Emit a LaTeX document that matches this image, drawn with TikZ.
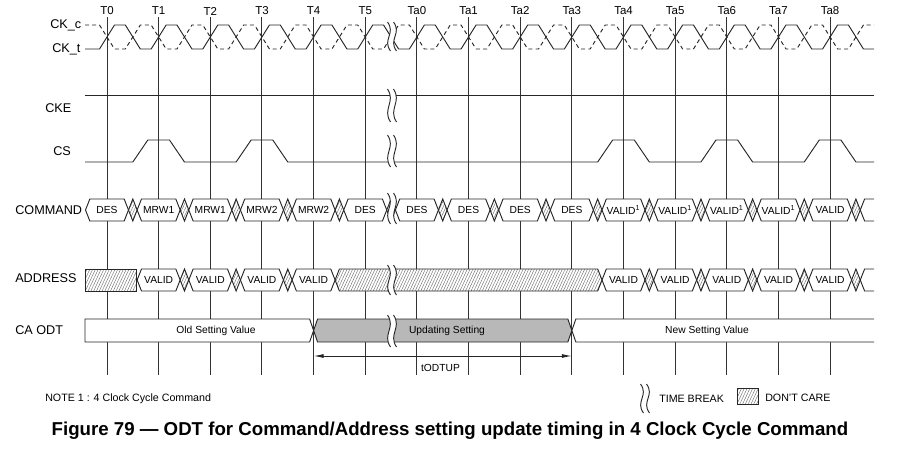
\documentclass[tikz,border=0pt]{standalone}
\usepackage{fontspec}
\setmainfont{Liberation Sans}
\usetikzlibrary{patterns.meta,arrows.meta}

\tikzset{
  sig/.style={line width=0.7pt, black!85},
  grid line/.style={line width=0.7pt, black!80},
  bus cell/.style={draw=black!85, line width=0.7pt, fill=white},
  dont care/.style={draw=black!85, line width=0.7pt, preaction={fill=white},
    pattern={Lines[angle=65,distance=1.9pt,line width=0.3pt]}, pattern color=black!60},
  row label/.style={anchor=west, inner sep=0pt, font=\fontsize{9.5}{11}\selectfont},
  edge label/.style={inner sep=0pt, font=\fontsize{8.6}{10}\selectfont},
  cell text/.style={inner sep=0pt, font=\fontsize{7.7}{9}\selectfont},
}

% one hexagon bus cell: centre x, row y, text, node name
\newcommand\buscell[4]{%
  \pgfmathsetmacro\cellL{#1-21.5}%
  \pgfmathsetmacro\cellR{#1+21.5}%
  \draw[bus cell] (\cellL,#2) -- ++(4.325,-11) -- ({\cellR-4.325},{#2-11}) -- (\cellR,#2)
    -- ({\cellR-4.325},{#2+11}) -- ({\cellL+4.325},{#2+11}) -- cycle;
  \node[cell text] (#4) at (#1,#2) {#3};
}
% small don't care diamond: left tip x, row y
\newcommand\dcdiamond[2]{%
  \draw[dont care] (#1,#2) -- ++(4.325,-11) -- ++(4.325,11) -- ++(-4.325,11) -- cycle;
}
% time break mark: x, top y, bottom y
\newcommand\timebreak[3]{%
  \pgfmathsetmacro\brh{(#3-#2)*0.4}%
  \fill[white] ({#1-4.5},#2) .. controls ({#1+4},{#2+\brh}) and ({#1-10},{#3-\brh}) .. ({#1-1.5},#3)
    -- ({#1+4.5},#3) .. controls ({#1-4},{#3-\brh}) and ({#1+10},{#2+\brh}) .. ({#1+1.5},#2) -- cycle;
  \draw[sig] ({#1-4.5},#2) .. controls ({#1+4},{#2+\brh}) and ({#1-10},{#3-\brh}) .. ({#1-1.5},#3);
  \draw[sig] ({#1+1.5},#2) .. controls ({#1+10},{#2+\brh}) and ({#1-4},{#3-\brh}) .. ({#1+4.5},#3);
}

\begin{document}
\begin{tikzpicture}[x=0.75pt,y=0.75pt,yscale=-1]
\useasboundingbox (0,0) rectangle (907,450);
\def\per{51.65}
\def\tzero{107}

% clock edges
\foreach \lbl [count=\i from 0] in {T0,T1,T2,T3,T4,T5,Ta0,Ta1,Ta2,Ta3,Ta4,Ta5,Ta6,Ta7,Ta8}{
  \pgfmathsetmacro\ex{\tzero+\i*\per}
  \node[edge label] (edge\i) at (\ex,11) {\lbl};
  \draw[grid line] (\ex,17) coordinate (top\i) -- (\ex,375) coordinate (bot\i);
}

% row labels
\node[row label] (ckc) at (50,25) {CK\_c};
\node[row label] (ckt) at (52,49) {CK\_t};
\node[row label] (cke) at (45,108) {CKE};
\node[row label] (cs) at (53,151) {CS};
\node[row label] (cmd) at (15,210) {COMMAND};
\node[row label] (addr) at (15,278) {ADDRESS};
\node[row label] (odt) at (15,330) {CA ODT};

% CK_t and CK_c
\draw[sig] (85,49) \foreach \k in {0,...,14}{
  -- ({\tzero+\k*\per-7.5},49) -- ({\tzero+\k*\per+7.5},25)
  -- ({\tzero+\k*\per+\per/2-7.5},25) -- ({\tzero+\k*\per+\per/2+7.5},49)} -- (874,49);
\draw[sig, dash pattern=on 3pt off 2.4pt] (85,25) \foreach \k in {0,...,14}{
  -- ({\tzero+\k*\per-7.5},25) -- ({\tzero+\k*\per+7.5},49)
  -- ({\tzero+\k*\per+\per/2-7.5},49) -- ({\tzero+\k*\per+\per/2+7.5},25)} -- (874,25);

% CKE
\draw[sig] (85,95) -- (874,95);

% CS
\draw[sig] (85,162) \foreach \j in {1,3,10,12,14}{
  -- ({\tzero+\j*\per-\per/2},162) -- ({\tzero+\j*\per-\per/2+15},140)
  -- ({\tzero+\j*\per+\per/2-15},140) -- ({\tzero+\j*\per+\per/2},162)} -- (874,162);

% COMMAND
\foreach \lbl [count=\i from 0] in {DES,MRW1,MRW1,MRW2,MRW2,DES,DES,DES,DES,DES,
    VALID\textsuperscript{1},VALID\textsuperscript{1},VALID\textsuperscript{1},VALID\textsuperscript{1},VALID}{
  \pgfmathsetmacro\cx{\tzero+\i*\per}
  \buscell{\cx}{210}{\lbl}{cmd\i}
  \dcdiamond{\cx+21.5}{210}
}
\draw[bus cell] (874,199) -- (864.6,199) -- (860.25,210) -- (864.6,221) -- (874,221);

% ADDRESS
\draw[dont care] (85,269) rectangle (136,291);
\foreach \i in {1,2,3,4,10,11,12,13,14}{
  \pgfmathsetmacro\cx{\tzero+\i*\per}
  \buscell{\cx}{280}{VALID}{addr\i}
}
\foreach \i in {1,2,3,10,11,12,13,14}{
  \dcdiamond{\tzero+\i*\per+21.5}{280}
}
\draw[dont care] (335.1,280) -- (339.4,269) -- (597.7,269) -- (602,280) -- (597.7,291) -- (339.4,291) -- cycle;
\draw[bus cell] (874,269) -- (864.6,269) -- (860.25,280) -- (864.6,291) -- (874,291);

% CA ODT
\draw[bus cell] (85,319) -- (309.6,319) -- (313.6,330.5) -- (309.6,342) -- (85,342) -- cycle;
\draw[bus cell, fill=black!28] (313.6,330.5) -- (317.6,319) -- (567.85,319) -- (571.85,330.5)
  -- (567.85,342) -- (317.6,342) -- cycle;
\draw[bus cell] (874,319) -- (575.85,319) -- (571.85,330.5) -- (575.85,342) -- (874,342);
\node[cell text] (old) at (216,330.5) {Old Setting Value};
\node[cell text] (upd) at (447,330.5) {Updating Setting};
\node[cell text] (new) at (707,330.5) {New Setting Value};

% tODTUP
\coordinate (odtL) at (313.6,356);
\coordinate (odtR) at (571.85,356);
\draw[sig, {Latex[length=7.5pt,width=3pt]}-{Latex[length=7.5pt,width=3pt]}] (odtL) -- (odtR);
\node[cell text] (todtup) at (440.5,368) {tODTUP};

% time breaks
\timebreak{392}{22}{51}
\timebreak{392}{89}{122}
\timebreak{392}{135}{167}
\timebreak{392}{193}{224}
\timebreak{392}{265}{295}
\timebreak{392}{315}{347}

% legend
\node[cell text, font=\fontsize{8}{9}\selectfont, anchor=west] (note) at (45,399) {NOTE 1 : 4 Clock Cycle Command};
\timebreak{645}{384}{413}
\node[cell text, font=\fontsize{8}{9}\selectfont, anchor=west] (tb) at (659,399) {TIME BREAK};
\draw[dont care] (737,388) rectangle (758,404);
\node[cell text, font=\fontsize{8}{9}\selectfont, anchor=west] (dc) at (765,398) {DON'T CARE};

% caption
\node[inner sep=0pt, font=\fontsize{14}{16}\selectfont\bfseries] (title) at (450,431)
  {Figure 79 — ODT for Command/Address setting update timing in 4 Clock Cycle Command};
\end{tikzpicture}
\end{document}
